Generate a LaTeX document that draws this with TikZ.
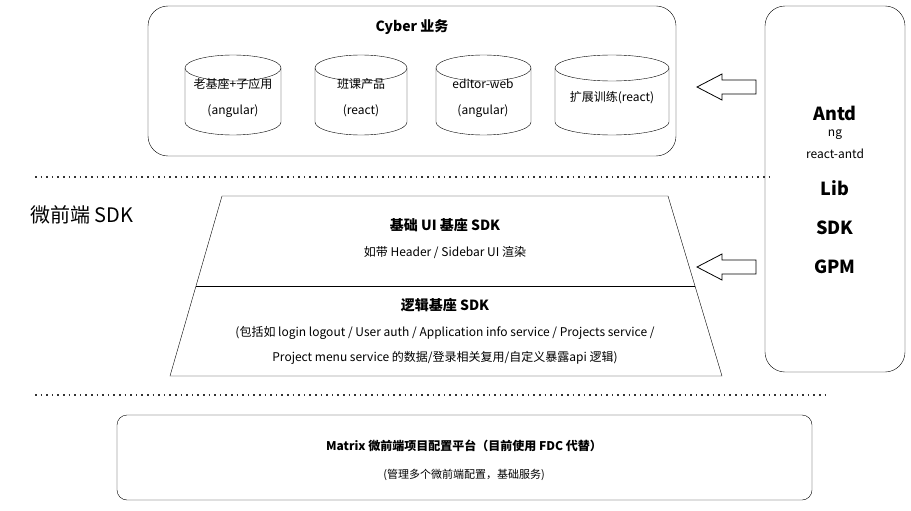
\documentclass[tikz,border=0pt]{standalone}
\usepackage{fontspec}
\setmainfont{Noto Sans CJK SC}
\begin{document}
\begin{tikzpicture}[x=1pt,y=-1pt,
  t/.style={font=\fontsize{12}{14}\selectfont,inner sep=0},
  tb/.style={font=\fontsize{14}{16}\selectfont\bfseries,inner sep=0},
  big/.style={font=\fontsize{18}{20}\selectfont\bfseries,inner sep=0},
  dotline/.style={line width=1.6pt,dash pattern=on 1.6pt off 4pt,draw=black!80},
  barrow/.style={thick,line join=miter}]
\useasboundingbox (0,0) rectangle (911,511);
\draw[rounded corners=20] (148,6) rectangle (676,156);
\node[tb] (cy) at (412,27) {Cyber 业务};
\foreach \n/\a/\b in {c1/185/281,c2/315/407,c3/436/531,c4/555/669}{
  \draw ({(\a+\b)/2},68) ellipse ({(\b-\a)/2} and 13);
  \draw (\a,68) -- (\a,122) arc[start angle=180,end angle=0,x radius={(\b-\a)/2},y radius=13] -- (\b,68);
  \coordinate (\n) at ({(\a+\b)/2},98);
}
\node[t] at (233,84) {老基座+子应用};
\node[t] at (233,111) {(angular)};
\node[t] at (361,84) {班课产品};
\node[t] at (361,111) {(react)};
\node[t] at (483,84) {editor-web};
\node[t] at (483,111) {(angular)};
\node[t] at (612,98) {扩展训练(react)};
\draw[rounded corners=20] (765,6) rectangle (905,372);
\node[big] (antd) at (835,113) {Antd};
\node[t] at (835,135) {ng};
\node[t] at (835,154) {react-antd};
\node[big] at (835,188) {Lib};
\node[big] at (835,228) {SDK};
\node[big] at (835,267) {GPM};
\foreach \y in {87,267}{
  \draw[barrow] (697,\y) -- (722,\y-13) -- (722,\y-7) -- (756,\y-7) -- (756,\y+7) -- (722,\y+7) -- (722,\y+13) -- cycle;
}
\draw[dotline] (35,177) -- (770,177);
\draw[dotline] (35,395) -- (825,395);
\node[font=\fontsize{20}{22}\selectfont,inner sep=0,anchor=west] at (30,215) {微前端 SDK};
\draw (222,196) -- (668,196) -- (722,376) -- (170,376) -- cycle;
\draw (196,286) -- (695,286);
\node[tb] at (445,225) {基础 UI 基座 SDK};
\node[t] at (445,253) {如带 Header / Sidebar UI 渲染};
\node[tb] at (445,305) {逻辑基座 SDK};
\node[t] at (445,333) {(包括如 login logout / User auth / Application info service / Projects service /};
\node[t] at (445,358) {Project menu service 的数据/登录相关复用/自定义暴露api 逻辑)};
\draw[rounded corners=10] (117,415) rectangle (812,500);
\node[font=\fontsize{12}{14}\selectfont\bfseries,inner sep=0] at (464,446) {Matrix 微前端项目配置平台（目前使用 FDC 代替）};
\node[t,font=\fontsize{11}{13}\selectfont] at (464,475) {(管理多个微前端配置，基础服务)};
\end{tikzpicture}
\end{document}
